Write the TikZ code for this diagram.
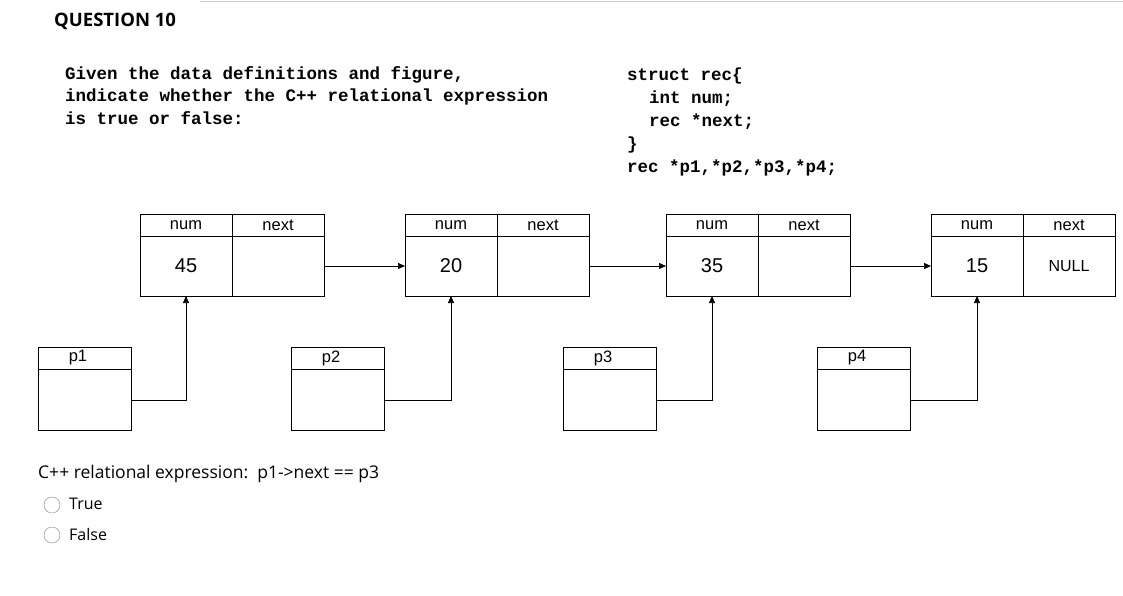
\documentclass[tikz,border=0pt]{standalone}
\usepackage{fontspec}
\setmainfont{Liberation Sans}
\newfontfamily\osans{Open Sans}
\newfontfamily\cmono{Liberation Mono}
\usetikzlibrary{arrows.meta}
\begin{document}
\begin{tikzpicture}[x=1pt,y=-1pt,
  bx/.style={draw,line width=0.8pt},
  lnk/.style={draw,line width=0.7pt,-{Triangle[length=7pt,width=6pt]}},
  code/.style={anchor=west,inner sep=0,font=\cmono\bfseries\fontsize{17.5}{20}\selectfont},
  lab/.style={font=\fontsize{16.5}{18}\selectfont,inner sep=0},
  val/.style={font=\fontsize{20}{22}\selectfont,inner sep=0}]
\useasboundingbox[fill=white] (0,0) rectangle (1123,595);
\draw[gray!40] (200,1) -- (1123,1);
\node[anchor=west,inner sep=0,font=\osans\bfseries\fontsize{18.5}{20}\selectfont] (q) at (54,21) {QUESTION 10};
\node[code] (t1) at (65,75) {Given the data definitions and figure,};
\node[code] (t2) at (65,97) {indicate whether the C++ relational expression};
\node[code] (t3) at (65,118) {is true or false:};
\node[code] (s1) at (627,76) {struct rec\{};
\node[code] (s2) at (649,99) {int num;};
\node[code] (s3) at (649,122) {rec *next;};
\node[code] (s4) at (627,145) {\}};
\node[code] (s5) at (627,168) {rec *p1,*p2,*p3,*p4;};
% list nodes
\foreach \i/\x/\v in {1/140/45,2/405/20,3/666/35,4/931/15}{
  \draw[bx] (\x,214) rectangle (\x+184,296);
  \draw[bx] (\x+92,214) -- (\x+92,296);
  \draw[bx] (\x,236) -- (\x+184,236);
  \node[lab] (h\i) at (\x+46,225) {num};
  \node[lab] (n\i) at (\x+138,225) {next};
  \node[val] (v\i) at (\x+46,266) {\v};
  \coordinate (L\i) at (\x,266);
  \coordinate (R\i) at (\x+184,266);
  \coordinate (B\i) at (\x+46,296);
}
\node[font=\fontsize{16}{18}\selectfont,inner sep=0] (null) at (1069,266) {NULL};
\draw[lnk] (R1) -- (L2);
\draw[lnk] (R2) -- (L3);
\draw[lnk] (R3) -- (L4);
% pointers
\foreach \i/\x/\t in {1/38/185,2/291/451,3/563/711,4/817/977}{
  \draw[bx] (\x,347) rectangle (\x+93,430);
  \draw[bx] (\x,369) -- (\x+93,369);
  \node[lab] (pl\i) at (\x+40,358) {p\i};
  \coordinate (P\i) at (\x+93,400);
  \draw[lnk] (P\i) -| (B\i);
}
\node[anchor=west,inner sep=0,font=\osans\fontsize{17.5}{19}\selectfont] (ex) at (38,474) {C++ relational expression:\ \ p1->next == p3};
\draw[gray] (52,505) circle (8);
\draw[gray] (52,535) circle (8);
\node[anchor=west,inner sep=0,font=\osans\fontsize{16}{18}\selectfont] (tr) at (69,504) {True};
\node[anchor=west,inner sep=0,font=\osans\fontsize{16}{18}\selectfont] (fa) at (69,534) {False};
\end{tikzpicture}
\end{document}
